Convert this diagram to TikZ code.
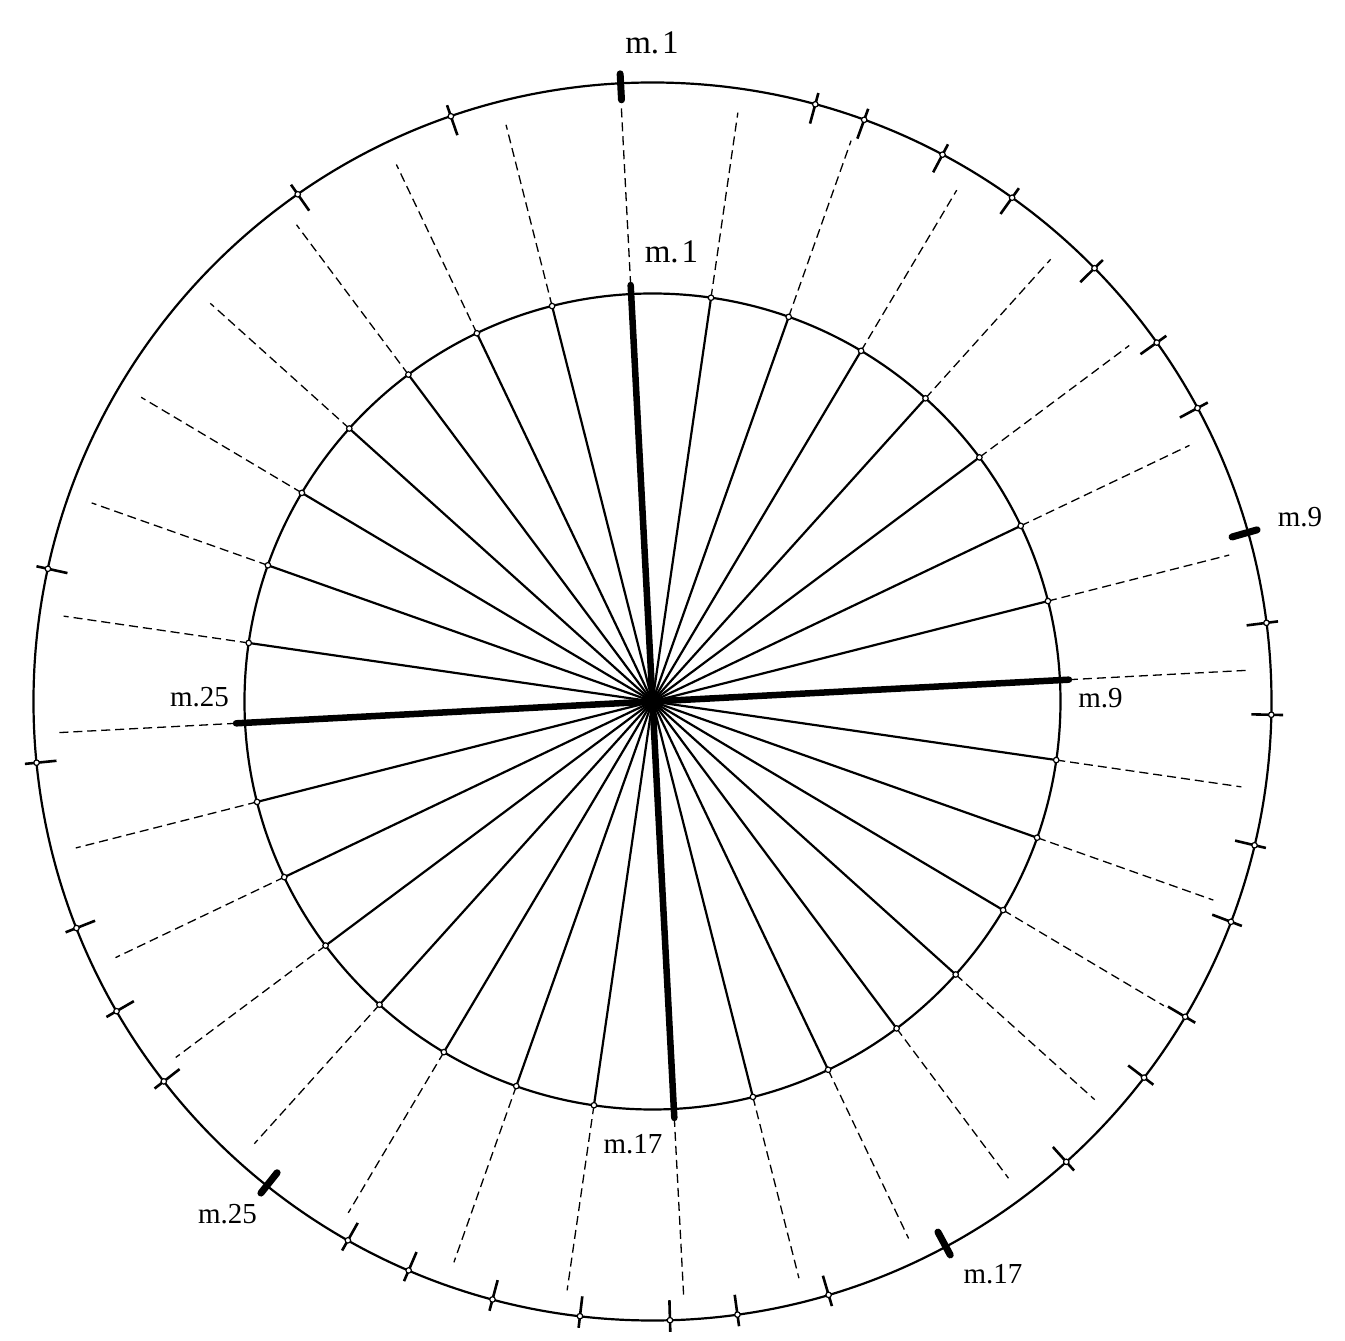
\documentclass[tikz,border=0pt]{standalone}
\usepackage{fontspec}
\setmainfont{Liberation Serif}
\begin{document}
\begin{tikzpicture}[x=1pt,y=1pt,
  ring/.style={line width=2.2pt},
  spoke/.style={line width=2.2pt},
  mainspoke/.style={line width=6.5pt,line cap=round},
  guide/.style={line width=1.3pt,dash pattern=on 9pt off 5pt},
  tickmark/.style={line width=2.6pt},
  maintick/.style={line width=7pt,line cap=round},
  dot/.style={circle,draw,fill=white,line width=1.2pt,inner sep=0pt,minimum size=5.5pt},
  lab/.style={font=\fontsize{29}{29}\selectfont,anchor=base,inner sep=0pt},
  biglab/.style={font=\fontsize{33}{33}\selectfont,anchor=base,inner sep=0pt}]
\useasboundingbox (-652.5,-639.5) rectangle (692.5,701.5);
\coordinate (O) at (0,0);
\draw[ring] (O) circle[radius=619];
\draw[ring] (O) circle[radius=408];
% spokes and dashed guides
\foreach \k in {0,...,31}{
  \pgfmathsetmacro\a{93-11.25*\k}
  \pgfmathtruncatemacro\m{mod(\k,8)}
  \coordinate (g\k) at (\a:595);
  \ifnum\m=0
    \coordinate (s\k) at (\a:417);
    \draw[mainspoke] (O) -- (s\k);
  \else
    \coordinate (s\k) at (\a:408);
    \draw[spoke] (O) -- (s\k);
  \fi
  \draw[guide] (s\k) -- (g\k);
}
\fill (O) circle[radius=9];
\foreach \k in {0,...,31}{
  \pgfmathtruncatemacro\m{mod(\k,8)}
  \ifnum\m=0\else
    \node[dot] (sd\k) at (s\k) {};
  \fi
}
% outer measure marks
\foreach \a [count=\i] in {92.95,74.75,70.0,62.06,54.48,44.43,35.44,28.3,
  15.85,7.3,-1.23,-13.43,-20.85,-30.62,-37.42,-48.05,
  -61.72,-73.47,-82.11,-88.38,-96.73,-104.98,-113.2,-119.48,
  -128.54,-142.14,-149.98,-158.53,-174.32,-192.38,-235.03,-250.99}{
  \pgfmathtruncatemacro\m{mod(\i-1,8)}
  \coordinate (t\i) at (\a:619);
  \ifnum\m=0
    \coordinate (ta\i) at (\a:602.5);
    \coordinate (tb\i) at (\a:628.5);
    \draw[maintick] (ta\i) -- (tb\i);
  \else
    \coordinate (ta\i) at (\a:599);
    \coordinate (tb\i) at (\a:630.7);
    \draw[tickmark] (ta\i) -- (tb\i);
    \node[dot] (td\i) at (t\i) {};
  \fi
}
% labels
\node[biglab] (lo1) at (-0.5,648.2) {m.\kern3pt 1};
\node[biglab] (li1) at (19,438.5) {m.\kern3pt 1};
\node[lab] (lo9) at (647.5,174.5) {m.9};
\node[lab] (li9) at (448,-6.5) {m.9};
\node[lab] (li17) at (-19.5,-451.5) {m.17};
\node[lab] (lo17) at (340.5,-581.5) {m.17};
\node[lab] (lo25) at (-425,-521.5) {m.25};
\node[lab] (li25) at (-453,-5.5) {m.25};
\end{tikzpicture}
\end{document}
